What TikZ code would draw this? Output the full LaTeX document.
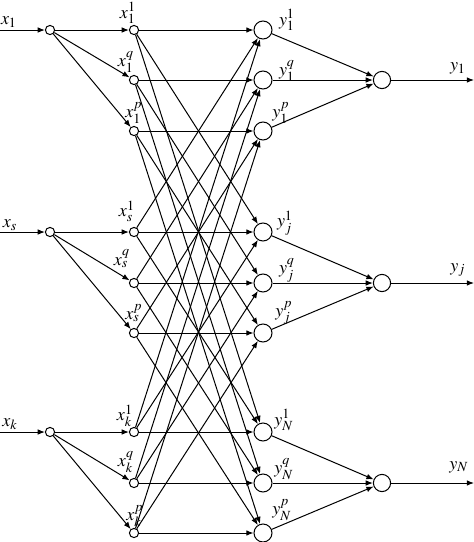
\documentclass[tikz,border=0pt]{standalone}
\usepackage{mathptmx}
\usetikzlibrary{arrows.meta}
\tikzset{
  >={Latex[length=3.6pt,width=2.8pt]},
  innode/.style={circle,draw,inner sep=0pt,minimum size=4.6pt},
  neuron/.style={circle,draw,inner sep=0pt,minimum size=9pt},
  sumnode/.style={circle,draw,inner sep=0pt,minimum size=8.6pt},
  lab/.style={inner sep=0pt,font=\small}
}
\begin{document}
\begin{tikzpicture}[x=0.5pt,y=-0.5pt,line width=0.5pt]
    \useasboundingbox (0,0) rectangle (474,542);
    % inputs
    \coordinate (i1) at (0,30);
    \coordinate (is) at (0,232);
    \coordinate (ik) at (0,432);
    \node[innode] (a1) at (50,30){};
    \node[innode] (as) at (50,232){};
    \node[innode] (ak) at (50,432){};
    % x layer
    \node[innode] (x11) at (134,30){};
    \node[innode] (x1q) at (134,80){};
    \node[innode] (x1p) at (134,131){};
    \node[innode] (xs1) at (134,232){};
    \node[innode] (xsq) at (134,283){};
    \node[innode] (xsp) at (134,333){};
    \node[innode] (xk1) at (134,432){};
    \node[innode] (xkq) at (134,483){};
    \node[innode] (xkp) at (134,533){};
    % y layer
    \node[neuron] (y11) at (263,30){};
    \node[neuron] (y1q) at (263,80){};
    \node[neuron] (y1p) at (263,131){};
    \node[neuron] (yj1) at (263,232){};
    \node[neuron] (yjq) at (263,283){};
    \node[neuron] (yjp) at (263,333){};
    \node[neuron] (yN1) at (263,432){};
    \node[neuron] (yNq) at (263,483){};
    \node[neuron] (yNp) at (263,533){};
    % sums and outputs
    \node[sumnode] (s1) at (382,80){};
    \node[sumnode] (sj) at (382,283){};
    \node[sumnode] (sN) at (382,483){};
    \coordinate (o1) at (474,80);
    \coordinate (oj) at (474,283);
    \coordinate (oN) at (474,483);
    % connectors
    \draw[->] (i1) -- (a1);
    \draw[->] (is) -- (as);
    \draw[->] (ik) -- (ak);
    \draw[->] (a1) edge (x11) edge (x1q) edge (x1p);
    \draw[->] (as) edge (xs1) edge (xsq) edge (xsp);
    \draw[->] (ak) edge (xk1) edge (xkq) edge (xkp);
    \draw[->] (x11) edge (y11) edge (yj1) edge (yN1);
    \draw[->] (x1q) edge (y1q) edge (yjq) edge (yNq);
    \draw[->] (x1p) edge (y1p) edge (yjp) edge (yNp);
    \draw[->] (xs1) edge (y11) edge (yj1) edge (yN1);
    \draw[->] (xsq) edge (y1q) edge (yjq) edge (yNq);
    \draw[->] (xsp) edge (y1p) edge (yjp) edge (yNp);
    \draw[->] (xk1) edge (y11) edge (yj1) edge (yN1);
    \draw[->] (xkq) edge (y1q) edge (yjq) edge (yNq);
    \draw[->] (xkp) edge (y1p) edge (yjp) edge (yNp);
    \draw[->] (y11) edge (s1) (y1q) edge (s1) (y1p) edge (s1);
    \draw[->] (yj1) edge (sj) (yjq) edge (sj) (yjp) edge (sj);
    \draw[->] (yN1) edge (sN) (yNq) edge (sN) (yNp) edge (sN);
    \draw[->] (s1) -- (o1);
    \draw[->] (sj) -- (oj);
    \draw[->] (sN) -- (oN);
    % labels
    \node[lab] (lx1) at (9,22){$x_1$};
    \node[lab] (lxs) at (10,225){$x_s$};
    \node[lab] (lxk) at (10,424){$x_k$};
    \node[lab] (lx11) at (128,13){$x_1^1$};
    \node[lab] (lx1q) at (126,62){$x_1^q$};
    \node[lab] (lx1p) at (134,113){$x_1^p$};
    \node[lab] (lxs1) at (127,211){$x_s^1$};
    \node[lab] (lxsq) at (122,259){$x_s^q$};
    \node[lab] (lxsp) at (134,313){$x_s^p$};
    \node[lab] (lxk1) at (125,416){$x_k^1$};
    \node[lab] (lxkq) at (126,462){$x_k^q$};
    \node[lab] (lxkp) at (135,516){$x_k^p$};
    \node[lab] (ly11) at (287,20){$y_1^1$};
    \node[lab] (ly1q) at (287,71){$y_1^q$};
    \node[lab] (ly1p) at (281,113){$y_1^p$};
    \node[lab] (lyj1) at (285,223){$y_j^1$};
    \node[lab] (lyjq) at (287,270){$y_j^q$};
    \node[lab] (lyjp) at (284,313){$y_j^p$};
    \node[lab] (lyN1) at (284,420){$y_N^1$};
    \node[lab] (lyNq) at (284,469){$y_N^q$};
    \node[lab] (lyNp) at (282,510){$y_N^p$};
    \node[lab] (ly1) at (458,68){$y_1$};
    \node[lab] (lyj) at (458,270){$y_j$};
    \node[lab] (lyN) at (459,467){$y_N$};
\end{tikzpicture}
\end{document}
